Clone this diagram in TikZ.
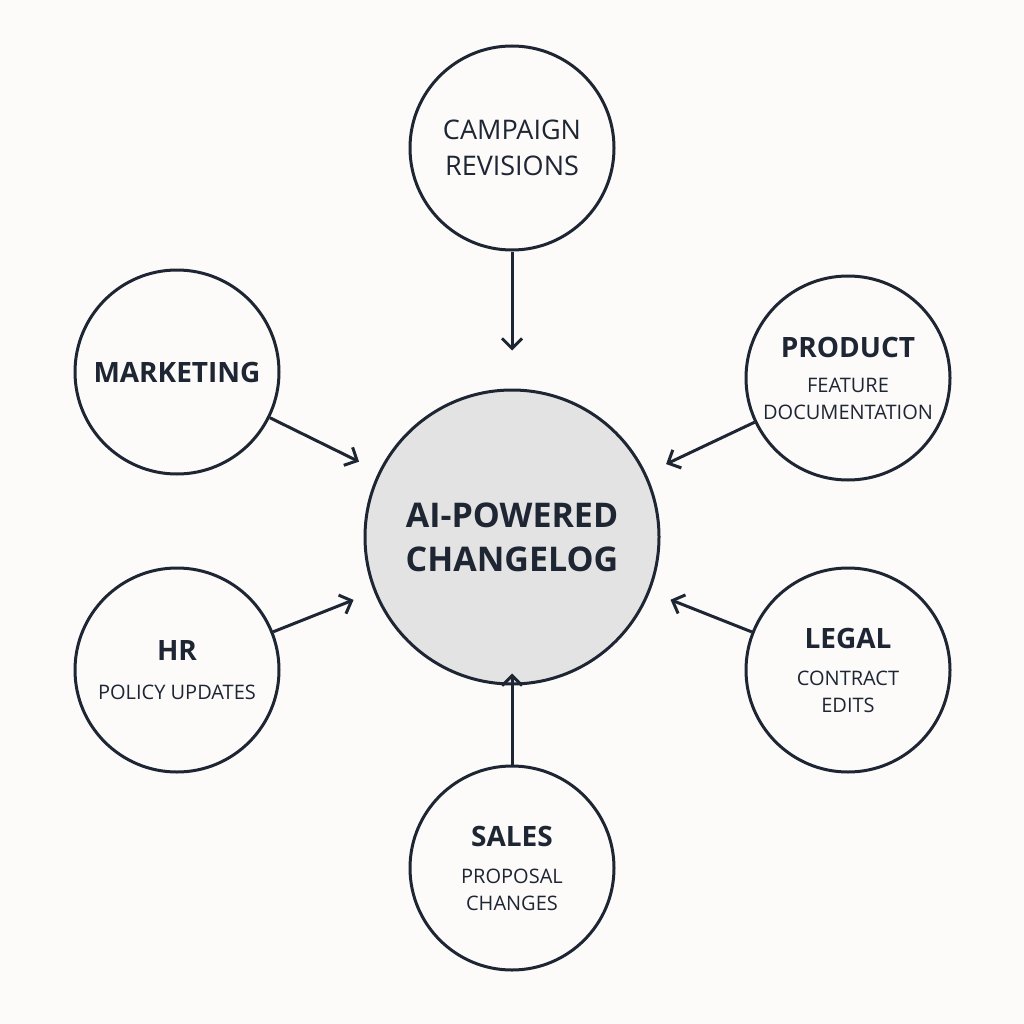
\documentclass[tikz,border=0pt]{standalone}
\usepackage{fontspec}
\setmainfont{Open Sans}
\usetikzlibrary{arrows.meta}
\definecolor{ink}{HTML}{1E2533}
\definecolor{bg}{HTML}{FCFBFA}
\definecolor{hub}{HTML}{E4E3E3}
\begin{document}
\begin{tikzpicture}[x=1pt,y=-1pt,
  sat/.style={circle,draw=ink,line width=3pt,fill=bg,minimum size=204pt,inner sep=0pt,align=center,text=ink,font=\fontsize{20}{27}\selectfont},
  arr/.style={draw=ink,line width=3pt,-{Straight Barb[length=10pt,width=20pt,line width=3pt]}}]
\useasboundingbox[fill=bg] (0,0) rectangle (1024,1024);
\node[sat,minimum size=294pt,fill=hub,font=\fontsize{34}{44}\selectfont\bfseries] (c) at (512,537) {AI-POWERED\\CHANGELOG};
\node[sat,font=\fontsize{27}{36}\selectfont] (t) at (512,148) {CAMPAIGN\\REVISIONS};
\node[sat,font=\fontsize{28}{34}\selectfont\bfseries] (m) at (177,372) {MARKETING};
\node[sat] (p) at (848,378) {{\fontsize{28}{34}\selectfont\bfseries PRODUCT}\\[8pt]FEATURE\\DOCUMENTATION};
\node[sat] (h) at (177,670) {{\fontsize{28}{34}\selectfont\bfseries HR}\\[12pt]POLICY UPDATES};
\node[sat] (l) at (848,670) {{\fontsize{28}{34}\selectfont\bfseries LEGAL}\\[10pt]CONTRACT\\EDITS};
\node[sat] (s) at (512,868) {{\fontsize{28}{34}\selectfont\bfseries SALES}\\[10pt]PROPOSAL\\CHANGES};
\draw[arr,shorten >=38pt] (t) -- (c);
\draw[arr,shorten >=22pt] (m) -- (c);
\draw[arr,shorten >=22pt] (p) -- (c);
\draw[arr,shorten >=22pt] (h) -- (c);
\draw[arr,shorten >=22pt] (l) -- (c);
\draw[arr,shorten >=-12pt] (s) -- (c);
\end{tikzpicture}
\end{document}
